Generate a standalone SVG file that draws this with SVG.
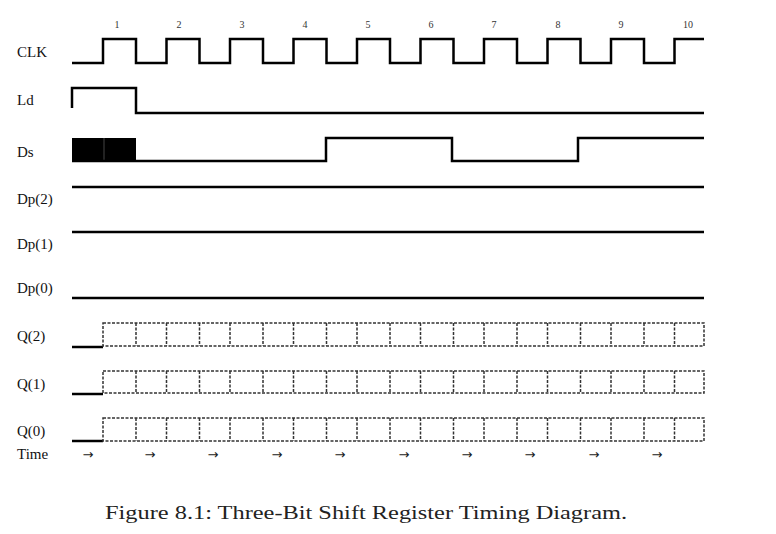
<svg xmlns="http://www.w3.org/2000/svg" width="776" height="534" viewBox="0 0 776 534">
<style>
.w{fill:none;stroke:#000;stroke-width:2.5}
.d{fill:none;stroke:#333;stroke-width:1.5;stroke-dasharray:3,1.5}
.l{font-family:"Liberation Serif",serif;font-size:15px;fill:#111}
.n{font-family:"Liberation Serif",serif;font-size:10px;fill:#333;text-anchor:middle}
.a{font-family:"DejaVu Sans",sans-serif;font-size:13px;fill:#222;text-anchor:middle}
</style>
<rect width="776" height="534" fill="#fff"/>
<g id="labels">
<text class="l" x="17" y="57">CLK</text>
<text class="l" x="17" y="105">Ld</text>
<text class="l" x="17" y="157">Ds</text>
<text class="l" x="17" y="204">Dp(2)</text>
<text class="l" x="17" y="249">Dp(1)</text>
<text class="l" x="17" y="293">Dp(0)</text>
<text class="l" x="17" y="341">Q(2)</text>
<text class="l" x="17" y="389">Q(1)</text>
<text class="l" x="17" y="436">Q(0)</text>
<text class="l" x="17" y="459">Time</text>
</g>
<g id="numbers">
<text class="n" x="117" y="28">1</text><text class="n" x="179" y="28">2</text><text class="n" x="242" y="28">3</text><text class="n" x="305" y="28">4</text><text class="n" x="368" y="28">5</text><text class="n" x="431" y="28">6</text><text class="n" x="494" y="28">7</text><text class="n" x="558" y="28">8</text><text class="n" x="621" y="28">9</text><text class="n" x="688" y="28">10</text>
</g>
<g id="clk"><path class="w" d="M72 63H103V39H136V63H166.5V39H199.5V63H230V39H263V63H293.5V39H326.5V63H357V39H390V63H420.5V39H453.5V63H484V39H517V63H547.5V39H580.5V63H611V39H644V63H674.5V39H704"/></g>
<g id="ld"><path class="w" d="M72 108V88H136V113H704"/></g>
<g id="ds"><rect x="72" y="138" width="64" height="23" fill="#000"/><line x1="104" y1="138" x2="104" y2="161" stroke="#444" stroke-width="1"/><path class="w" d="M72 161H326V138H452V161H578V138H704"/></g>
<g id="dp"><path class="w" d="M72 187H704M72 232H704M72 298H704"/></g>
<g id="q2"><path class="w" d="M72 347H103"/><rect class="d" x="103" y="323" width="601" height="23"/><path class="d" d="M136 323v23M166.5 323v23M199.5 323v23M230 323v23M263 323v23M293.5 323v23M326.5 323v23M357 323v23M390 323v23M420.5 323v23M453.5 323v23M484 323v23M517 323v23M547.5 323v23M580.5 323v23M611 323v23M644 323v23M674.5 323v23"/></g>
<g id="q1"><path class="w" d="M72 394H103"/><rect class="d" x="103" y="371" width="601" height="22"/><path class="d" d="M136 371v22M166.5 371v22M199.5 371v22M230 371v22M263 371v22M293.5 371v22M326.5 371v22M357 371v22M390 371v22M420.5 371v22M453.5 371v22M484 371v22M517 371v22M547.5 371v22M580.5 371v22M611 371v22M644 371v22M674.5 371v22"/></g>
<g id="q0"><path class="w" d="M72 441H103"/><rect class="d" x="103" y="418" width="601" height="23"/><path class="d" d="M136 418v23M166.5 418v23M199.5 418v23M230 418v23M263 418v23M293.5 418v23M326.5 418v23M357 418v23M390 418v23M420.5 418v23M453.5 418v23M484 418v23M517 418v23M547.5 418v23M580.5 418v23M611 418v23M644 418v23M674.5 418v23"/></g>
<g id="time">
<text class="a" x="88" y="459">→</text><text class="a" x="150" y="459">→</text><text class="a" x="213" y="459">→</text><text class="a" x="277" y="459">→</text><text class="a" x="340" y="459">→</text><text class="a" x="404" y="459">→</text><text class="a" x="467" y="459">→</text><text class="a" x="530" y="459">→</text><text class="a" x="594" y="459">→</text><text class="a" x="657" y="459">→</text>
</g>
<text x="105" y="519" textLength="522" lengthAdjust="spacingAndGlyphs" font-family="Liberation Serif,serif" font-size="19" fill="#222">Figure 8.1: Three-Bit Shift Register Timing Diagram.</text>
</svg>
